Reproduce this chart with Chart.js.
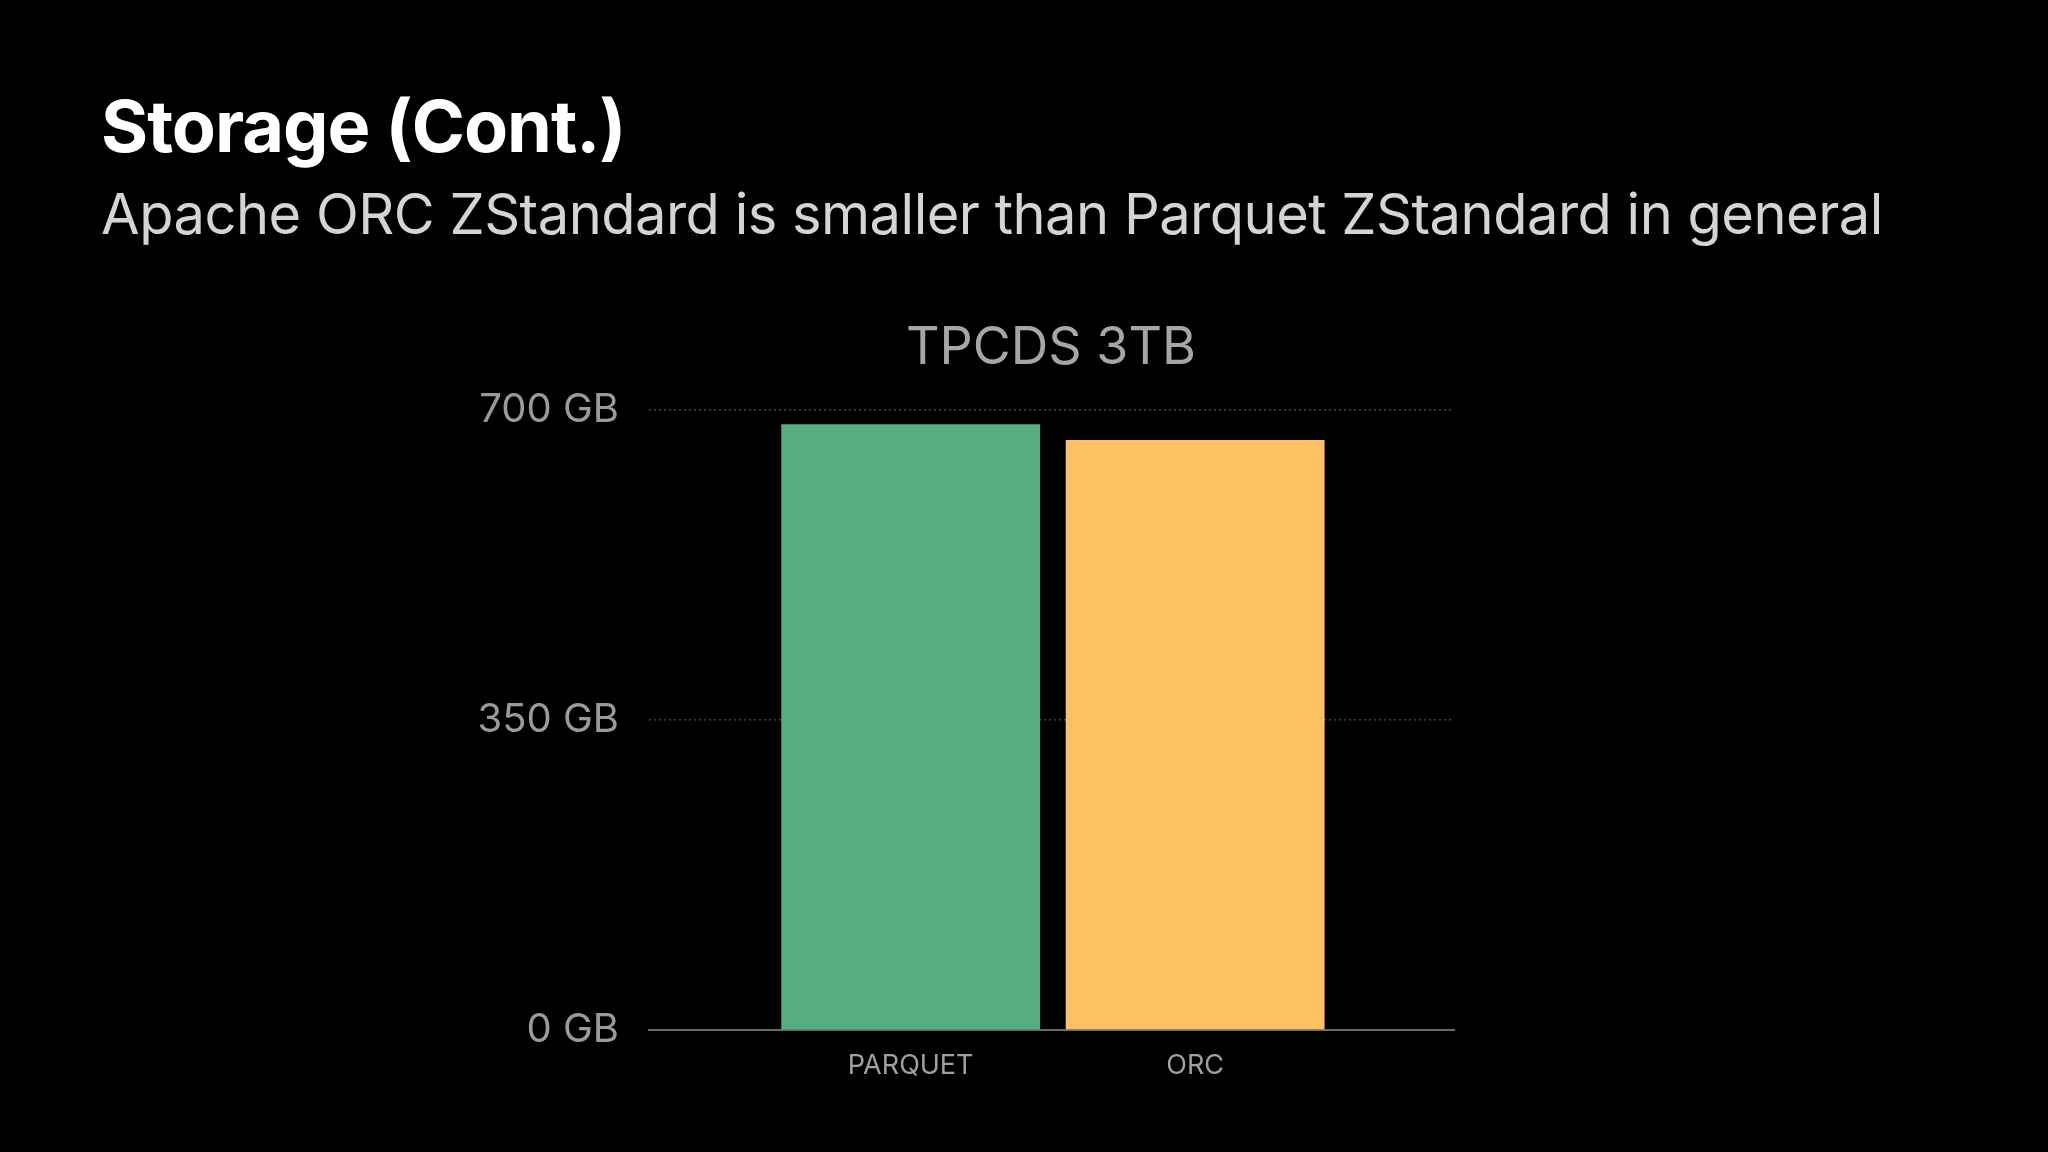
<!DOCTYPE html>
<html>
<head>
<meta charset="utf-8">
<script src="https://cdn.jsdelivr.net/npm/chart.js@4/dist/chart.umd.min.js"></script>
<style>
  html, body { margin: 0; padding: 0; background: #000; width: 2048px; height: 1152px; overflow: hidden; font-family: Inter, "Open Sans", sans-serif; }
  .txt { position: absolute; white-space: nowrap; line-height: 1; }
  #title { left: 101px; top: 90px; font-size: 72px; font-weight: 700; color: #fff; letter-spacing: -1px; }
  #subtitle { left: 101px; top: 186px; font-size: 56px; color: #d4d4d4; letter-spacing: -0.5px; }
  #ctitle { left: 1051px; top: 320px; font-size: 52px; color: #a6a6a6; transform: translateX(-50%); }
  #wrap { position: absolute; left: 0; top: 0; width: 2048px; height: 1152px; }
</style>
</head>
<body>
<div id="title" class="txt">Storage (Cont.)</div>
<div id="subtitle" class="txt">Apache ORC ZStandard is smaller than Parquet ZStandard in general</div>
<div id="ctitle" class="txt">TPCDS 3TB</div>
<div id="wrap"><canvas id="chart"></canvas></div>
<script>
// valeurs
const categories = ["PARQUET", "ORC"];
const sizesGB = [684, 666];
const barColors = ["#58AD7E", "#FDC163"];
const yTicks = [0, 350, 700];

const points = sizesGB.map((v, i) => ({ x: i + 1, y: v }));

new Chart(document.getElementById("chart"), {
  type: "bar",
  data: {
    datasets: [{
      data: points,
      backgroundColor: barColors,
      barPercentage: 0.91,
      categoryPercentage: 1
    }]
  },
  options: {
    responsive: true,
    maintainAspectRatio: false,
    animation: false,
    layout: { padding: { left: 449, right: 594, top: 410, bottom: 0 } },
    plugins: { legend: { display: false }, tooltip: { enabled: false } },
    scales: {
      x: {
        type: "linear",
        offset: false,
        min: 0.08,
        max: 2.91,
        afterBuildTicks: axis => { axis.ticks = categories.map((c, i) => ({ value: i + 1 })); },
        afterFit: axis => { axis.height = 122; },
        ticks: {
          callback: v => categories[v - 1] || "",
          color: "#a0a0a0",
          font: { family: "Inter", size: 27 },
          padding: 12,
          maxRotation: 0
        },
        grid: { display: false, offset: false },
        border: { display: true, color: "#6a6a6a", width: 2 }
      },
      y: {
        min: 0,
        max: 700,
        afterBuildTicks: axis => { axis.ticks = yTicks.map(v => ({ value: v })); },
        afterFit: axis => { axis.width = 200; },
        ticks: {
          callback: v => v + " GB",
          color: "#9a9a9a",
          font: { family: "Inter", size: 40 },
          padding: 30
        },
        grid: { color: "#444", lineWidth: 1.5, drawTicks: false },
        border: { display: false, dash: [2, 3] }
      }
    }
  }
});
</script>
</body>
</html>
